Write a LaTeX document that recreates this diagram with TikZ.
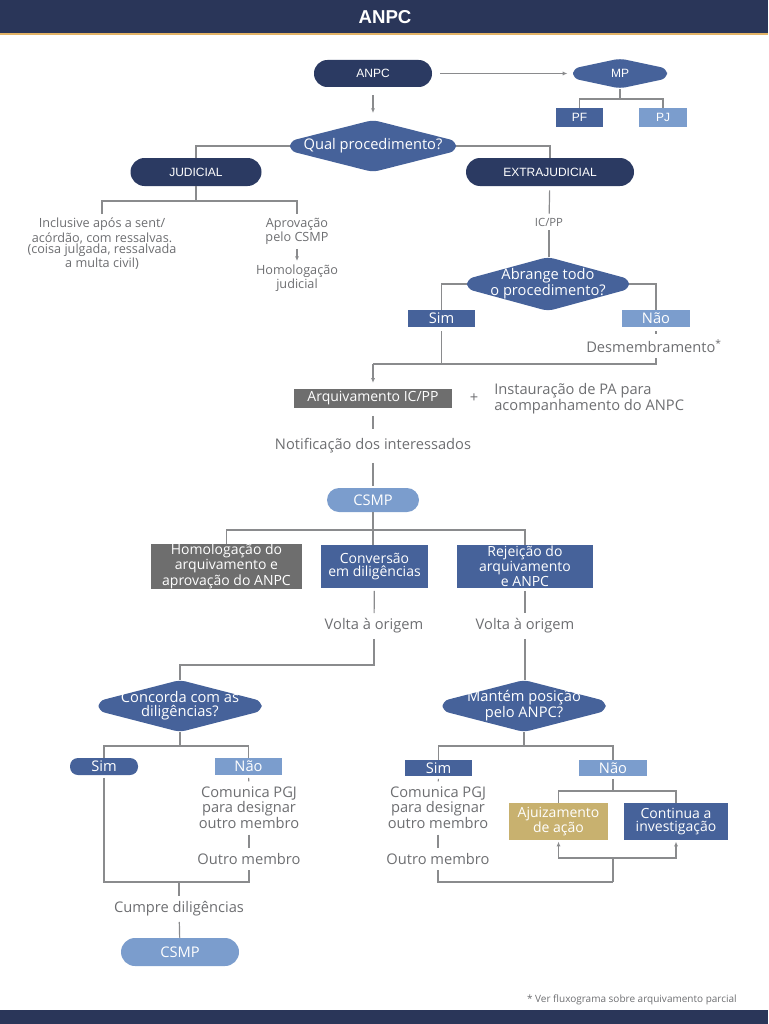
\documentclass[tikz,border=0pt]{standalone}
\usepackage{fontspec}
\setmainfont{Open Sans}
\newfontfamily\capsfont{Liberation Sans}
\usetikzlibrary{arrows.meta}
\definecolor{navy}{HTML}{2A3659}
\definecolor{dkblue}{HTML}{2B3A62}
\definecolor{mdblue}{HTML}{46629A}
\definecolor{ltblue}{HTML}{7B9DCD}
\definecolor{gbox}{HTML}{6E6E6E}
\definecolor{goldbox}{HTML}{C8B16F}
\definecolor{gtext}{HTML}{6D6E71}
\definecolor{gline}{HTML}{8A8B8D}
\definecolor{goldline}{HTML}{E2B366}
% flattened diamond: centre x, centre y, half width, half height (px)
\newcommand\hexdia[4]{\begin{scope}[shift={(#1,#2)}]\fill[mdblue, rounded corners=4.5pt] (0,-#4) -- (-#3,-5) -- (-#3,5) -- (0,#4) -- (#3,5) -- (#3,-5) -- cycle;\end{scope}}
\begin{document}
\begin{tikzpicture}[x=0.75pt,y=-0.75pt,
 conn/.style={draw=gline, line width=0.9pt},
 arr/.style={conn, -{Latex[length=3.5pt,width=3pt]}},
 wbox/.style={inner sep=0pt, align=center, text=white, font=\fontsize{10.5}{9.4}\selectfont},
 capsbox/.style={inner sep=0pt, align=center, text=white, font=\capsfont\fontsize{9}{11}\selectfont},
 gtxt/.style={inner sep=4pt, align=center, text=gtext, font=\fontsize{11}{9.4}\selectfont},
 stxt/.style={inner sep=3pt, align=center, text=gtext, font=\fontsize{9.5}{8.6}\selectfont},
 dtext/.style={inner sep=0pt, align=center, text=white, font=\fontsize{11}{9.4}\selectfont},
]
\useasboundingbox (0,0) rectangle (768,1024);
% header and footer bars
\fill[navy] (0,0) rectangle (768,33);
\fill[goldline] (0,33) rectangle (768,35.5);
\fill[navy] (0,1010) rectangle (768,1024);
\node[text=white, font=\capsfont\bfseries\fontsize{14}{16}\selectfont] (title) at (385,17) {ANPC};

% diamond shapes
\hexdia{620}{73.5}{47}{15}
\hexdia{373}{146}{83}{26}
\hexdia{548}{284}{81}{27}
\hexdia{180}{706}{81.5}{26}
\hexdia{524}{706}{81.5}{26}

% nodes
\node[capsbox, fill=dkblue, rounded corners=10pt, minimum width=118*0.75pt, minimum height=27*0.75pt] (anpc) at (373,73.5) {ANPC};
\node[capsbox, minimum width=94*0.75pt, minimum height=30*0.75pt] (mp) at (620,73.5) {MP};
\node[capsbox, fill=mdblue, minimum width=47*0.75pt, minimum height=19*0.75pt] (pf) at (579.5,117.5) {PF};
\node[capsbox, fill=ltblue, minimum width=48*0.75pt, minimum height=19*0.75pt] (pj) at (663,117.5) {PJ};
\node[dtext, minimum width=166*0.75pt, minimum height=52*0.75pt] (q) at (373,146) {Qual procedimento?};
\node[capsbox, fill=dkblue, rounded corners=10.5pt, minimum width=131*0.75pt, minimum height=28*0.75pt] (jud) at (196,172) {JUDICIAL};
\node[capsbox, fill=dkblue, rounded corners=10.5pt, minimum width=168*0.75pt, minimum height=28*0.75pt] (ext) at (550,172) {EXTRAJUDICIAL};

\node[stxt, anchor=north] (inc) at (102,214) {Inclusive após a sent/\\acórdão, com ressalvas.\\(coisa julgada, ressalvada\\a multa civil)};
\node[stxt, anchor=north] (apr) at (297,214) {Aprovação\\pelo CSMP};
\node[stxt, anchor=north] (hom) at (297,261) {Homologação\\judicial};

\node[stxt, font=\fontsize{8.5}{10}\selectfont] (icpp) at (549,222) {IC/PP};
\node[dtext, minimum width=162*0.75pt, minimum height=54*0.75pt] (abr) at (548,284) {Abrange todo\\o procedimento?};
\node[wbox, fill=mdblue, font=\fontsize{11}{12}\selectfont, minimum width=67*0.75pt, minimum height=17*0.75pt] (sim1) at (441.5,318.5) {Sim};
\node[wbox, fill=ltblue, font=\fontsize{11}{12}\selectfont, minimum width=68*0.75pt, minimum height=17*0.75pt] (nao1) at (656,318.5) {Não};
\node[gtxt] (desm) at (654,346) {Desmembramento\textsuperscript{*}};

\node[wbox, fill=gbox, font=\fontsize{10.5}{11}\selectfont, minimum width=158*0.75pt, minimum height=19*0.75pt] (arq) at (373,398) {Arquivamento IC/PP};
\node[gtxt] (plus) at (474,398) {+};
\node[gtxt, anchor=west, align=left, inner sep=0pt] (inst) at (494,399) {Instauração de PA para\\acompanhamento do ANPC};
\node[gtxt] (notif) at (373,446) {Notificação dos interessados};
\node[wbox, fill=ltblue, font=\fontsize{11}{12}\selectfont, rounded corners=9pt, minimum width=92*0.75pt, minimum height=24*0.75pt] (csmp1) at (373,500) {CSMP};

\node[wbox, fill=gbox, minimum width=151*0.75pt, minimum height=43*0.75pt] (homa) at (226.5,566.5) {Homologação do\\arquivamento e\\aprovação do ANPC};
\node[wbox, fill=mdblue, minimum width=107*0.75pt, minimum height=43*0.75pt] (conv) at (374.5,566.5) {Conversão\\em diligências};
\node[wbox, fill=mdblue, minimum width=136*0.75pt, minimum height=43*0.75pt] (rej) at (525,566.5) {Rejeição do\\arquivamento\\e ANPC};
\node[gtxt] (volta1) at (374,626) {Volta à origem};
\node[gtxt] (volta2) at (525,626) {Volta à origem};

\node[dtext, font=\fontsize{11}{10.6}\selectfont, minimum width=163*0.75pt, minimum height=52*0.75pt] (conc) at (180,706) {Concorda com as\\diligências?};
\node[dtext, font=\fontsize{11}{10.6}\selectfont, minimum width=163*0.75pt, minimum height=52*0.75pt] (mant) at (524,706) {Mantém posição\\pelo ANPC?};

\node[wbox, fill=mdblue, font=\fontsize{11}{12}\selectfont, rounded corners=6pt, minimum width=68*0.75pt, minimum height=17*0.75pt] (sim2) at (104,766.5) {Sim};
\node[wbox, fill=ltblue, font=\fontsize{11}{12}\selectfont, minimum width=67*0.75pt, minimum height=17*0.75pt] (nao2) at (248.5,766.5) {Não};
\node[gtxt] (com1) at (249,808) {Comunica PGJ\\para designar\\outro membro};
\node[gtxt] (outro1) at (249,859) {Outro membro};
\node[gtxt] (cumpre) at (179,909) {Cumpre diligências};
\node[wbox, fill=ltblue, font=\fontsize{11}{12}\selectfont, rounded corners=10.5pt, minimum width=118*0.75pt, minimum height=28*0.75pt] (csmp2) at (180,952) {CSMP};

\node[wbox, fill=mdblue, font=\fontsize{11}{12}\selectfont, minimum width=67*0.75pt, minimum height=16*0.75pt] (sim3) at (438.5,768) {Sim};
\node[wbox, fill=ltblue, font=\fontsize{11}{12}\selectfont, minimum width=68*0.75pt, minimum height=16*0.75pt] (nao3) at (613,768) {Não};
\node[gtxt] (com2) at (438,808) {Comunica PGJ\\para designar\\outro membro};
\node[gtxt] (outro2) at (438,859) {Outro membro};
\node[wbox, fill=goldbox, minimum width=99*0.75pt, minimum height=37*0.75pt] (aju) at (558.5,821.5) {Ajuizamento\\de ação};
\node[wbox, fill=mdblue, minimum width=104*0.75pt, minimum height=37*0.75pt] (cont) at (676,821.5) {Continua a\\investigação};

\node[gtxt, inner sep=0pt, anchor=east, font=\fontsize{7.5}{9}\selectfont] (foot) at (737,1000) {* Ver fluxograma sobre arquivamento parcial};

% junction coordinates
\coordinate (mpb) at (620,99);
\coordinate (jb) at (196,201);
\coordinate (join1) at (373,364);
\coordinate (cj) at (373,530);
\coordinate (vj) at (374,665);
\coordinate (cb) at (180,746);
\coordinate (lj) at (179,882);
\coordinate (mb) at (524,746);
\coordinate (rj) at (613,882);
\coordinate (rk) at (613,858);
\coordinate (nb) at (613,791);

% connectors
\draw[arr, shorten <=6pt, shorten >=4pt] (anpc) -- (mp);
\draw[conn] (mp.south) -- (mpb);
\draw[conn] (pf.north) |- (mpb) -| (pj.north);
\draw[arr, shorten <=6pt, shorten >=5pt] (anpc) -- (q);
\draw[conn] (q.west) -| (jud.north);
\draw[conn] (q.east) -| (ext.north);
\draw[conn] (jud.south) -- (jb);
\draw[conn] (inc.north) |- (jb) -| (apr.north);
\draw[arr] (apr) -- (hom);
\draw[conn, shorten <=3pt] (ext) -- (icpp);
\draw[conn] (icpp) -- (icpp |- abr.north);
\draw[conn] (abr.west) -| (sim1.north);
\draw[conn] (abr.east) -| (nao1.north);
\draw[conn, shorten <=3pt] (nao1.south) -- (nao1.south |- desm.north);
\draw[conn] (nao1.south |- desm.south) |- (join1);
\draw[conn, shorten <=3pt] (sim1.south) -- (sim1.south |- join1);
\draw[arr, shorten >=4pt] (join1) -- (arq.north);
\draw[conn, shorten <=6pt, shorten >=3pt] (arq) -- (notif);
\draw[conn, shorten <=3pt, shorten >=1pt] (notif) -- (csmp1);
\draw[conn] (csmp1) -- (cj);
\draw[conn] (homa.north) |- (cj) -| (rej.north);
\draw[conn] (cj) -- (cj |- conv.north);
\draw[conn, shorten <=2pt] (conv) -- (volta1);
\draw[conn] (volta1.south) -- (vj) -| (conc.north);
\draw[conn, shorten <=2pt] (rej) -- (volta2);
\draw[conn] (volta2) -- (volta2 |- mant.north);
\draw[conn] (conc.south) -- (cb);
\draw[conn] (sim2.north) |- (cb) -| (nao2.north);
\draw[conn, shorten <=2pt] (nao2) -- (com1);
\draw[conn] (com1) -- (outro1);
\draw[conn, shorten <=2pt] (sim2.south) |- (lj);
\draw[conn] (outro1.south) |- (lj);
\draw[conn] (lj) -- (cumpre);
\draw[conn] (cumpre) -- (csmp2);
\draw[conn] (mant.south) -- (mb);
\draw[conn] (sim3.north) |- (mb) -| (nao3.north);
\draw[conn, shorten <=2pt] (sim3) -- (com2);
\draw[conn] (com2) -- (outro2);
\draw[conn] (outro2.south) |- (rj);
\draw[conn] (rj) -- (rk);
\draw[arr, shorten >=1pt] (rk) -| (aju.south);
\draw[arr, shorten >=1pt] (rk) -| (cont.south);
\draw[conn, shorten <=2pt] (nao3.south) -- (nb);
\draw[conn] (aju.north) |- (nb) -| (cont.north);
\end{tikzpicture}
\end{document}
